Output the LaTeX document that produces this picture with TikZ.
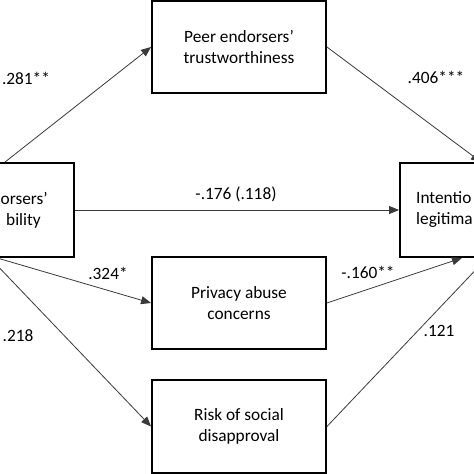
\documentclass[tikz,border=0pt]{standalone}
\usepackage{fontspec}
\setmainfont{Carlito}
\usetikzlibrary{arrows.meta}
\definecolor{linegray}{HTML}{3A3A3A}
\tikzset{
  varbox/.style={draw=black, line width=1.9pt, minimum width=174pt, minimum height=92pt, inner sep=0pt, align=center, font=\fontsize{17.3}{21}\selectfont},
  boxtext/.style={inner sep=0pt, font=\fontsize{17.3}{21}\selectfont},
  connector/.style={draw=linegray, line width=0.8pt, -{Triangle[length=10pt,width=8pt]}},
  coef/.style={inner sep=0pt, font=\fontsize{17.3}{21}\selectfont}
}
\begin{document}
\begin{tikzpicture}[x=1pt,y=-1pt]
\useasboundingbox (0,0) rectangle (474,474);
\clip (0,0) rectangle (474,474);
\fill[white] (0,0) rectangle (474,474);
% boxes
\node[varbox] (trust) at (239,47) {Peer endorsers'\\trustworthiness};
\node[varbox, minimum height=94pt] (cred) at (-13,210) {};
\node[varbox, minimum height=94pt] (intent) at (487,210) {};
\node[varbox] (priv) at (239,303) {Privacy abuse\\concerns};
\node[varbox, minimum height=93pt] (risk) at (239,426.5) {Risk of social\\disapproval};
% visible parts of cropped box texts
\node[boxtext, anchor=east, align=right] (credtext) at (48,210) {orsers'\\bility\hspace*{7pt}};
\node[boxtext, anchor=west, align=left] (intenttext) at (416,210) {Intentio\\legitima};
% connectors
\draw[connector] ([xshift=18pt]cred.north) -- (trust.west);
\draw[connector] (trust.east) -- ([xshift=-6pt]intent.north);
\draw[connector] (cred.east) -- (intent.west);
\draw[connector] ([xshift=10pt]cred.south) -- (priv.west);
\draw[connector] ([xshift=3pt]cred.south) -- (risk.west);
\draw[connector] (priv.east) -- ([xshift=-25pt]intent.south);
\draw[connector] (risk.east) -- (intent.south);
% coefficients
\node[coef] (c1) at (26,78) {.281**};
\node[coef] (c2) at (436,77) {.406***};
\node[coef] (c3) at (236,194) {-.176 (.118)};
\node[coef] (c4) at (108,273) {.324*};
\node[coef] (c5) at (18,336) {.218};
\node[coef] (c6) at (368,272) {-.160**};
\node[coef] (c7) at (439,331) {.121};
\end{tikzpicture}
\end{document}
